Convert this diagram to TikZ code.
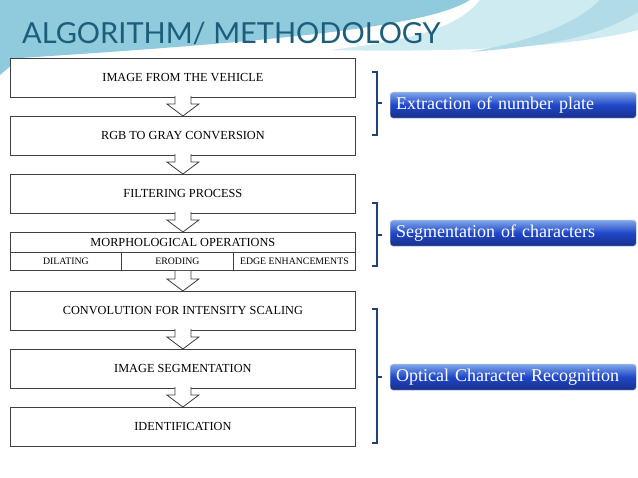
\documentclass[tikz,border=0pt]{standalone}
\usepackage{fontspec}
\usetikzlibrary{calc}
\setmainfont{Liberation Serif}
\newfontfamily\titlefont{Lato}
\definecolor{titlec}{HTML}{1B5E7C}
\definecolor{sw1}{HTML}{8FCBDD}
\definecolor{sw2}{HTML}{CDEBF1}
\definecolor{labtop}{HTML}{7FA6E8}
\definecolor{labmid}{HTML}{1F46C8}
\definecolor{labbot}{HTML}{1A2F8A}
\definecolor{brkc}{HTML}{1F3F7F}
\begin{document}
\begin{tikzpicture}[x=1pt,y=-1pt,
  box/.style={draw=black!75,fill=white,line width=0.8pt,minimum width=345pt,anchor=north west,inner sep=0pt,font=\fontsize{12.3}{14}\selectfont},
  sub/.style={box,minimum height=18pt,font=\fontsize{9.8}{11}\selectfont},
  lab/.style={rounded corners=3pt,draw=labtop!60,top color=labtop,bottom color=labbot,middle color=labmid,minimum width=246pt,minimum height=26pt,anchor=north west,text=white,font=\fontsize{18}{20}\selectfont,inner xsep=6pt,text width=234pt,align=left},
  brk/.style={draw=brkc,line width=1.8pt},
  arr/.style={draw=black!75,fill=white,line width=0.8pt}]
\useasboundingbox (0,0) rectangle (638,478);
\fill[white] (0,0) rectangle (638,478);
% background swoosh
\fill[sw1] (0,0) -- (470,0) .. controls (430,25) and (300,40) .. (20,58) -- (0,75) -- cycle;
\fill[sw2] (480,0) -- (638,0) -- (638,30) .. controls (560,50) and (430,52) .. (330,50) .. controls (420,40) and (460,25) .. (480,0) -- cycle;
\fill[sw1!70] (600,0) -- (638,0) -- (638,12) .. controls (600,35) and (560,45) .. (470,52) .. controls (540,40) and (580,20) .. (600,0) -- cycle;
\node[anchor=west,text=titlec,font=\titlefont\fontsize{29}{32}\selectfont,inner sep=0pt] (title) at (22,33) {ALGORITHM/ METHODOLOGY};
% boxes
\node[box,minimum height=39pt] (b1) at (10,58) {IMAGE FROM THE VEHICLE};
\node[box,minimum height=39pt] (b2) at (10,116) {RGB TO GRAY CONVERSION};
\node[box,minimum height=39pt] (b3) at (10,174) {FILTERING PROCESS};
\node[box,minimum height=20pt] (b4) at (10,232) {MORPHOLOGICAL OPERATIONS};
\node[sub,minimum width=111pt] (d1) at (10,252) {DILATING};
\node[sub,minimum width=112pt] (d2) at (121,252) {ERODING};
\node[sub,minimum width=122pt] (d3) at (233,252) {EDGE ENHANCEMENTS};
\node[box,minimum height=39pt] (b5) at (10,291) {CONVOLUTION FOR INTENSITY SCALING};
\node[box,minimum height=39pt] (b6) at (10,349) {IMAGE SEGMENTATION};
\node[box,minimum height=39pt] (b7) at (10,407) {IDENTIFICATION};
% arrows
\foreach \a/\b in {b1/b2,b2/b3,b3/b4,b4/b5,b5/b6,b6/b7}{
  \path (\b.north) ++(0,-20) coordinate (s);
  \path (\b.north) coordinate (t);
  \draw[arr] ($(s)+(-8,0)$) -- ($(s)+(-8,8)$) -- ($(s)+(-16,8)$) -- (t) -- ($(s)+(16,8)$) -- ($(s)+(8,8)$) -- ($(s)+(8,0)$);
}
% brackets
\draw[brk] (372,72) -- (377,72) -- (377,135) -- (372,135) (377,103) -- (382,103);
\draw[brk] (372,203) -- (377,203) -- (377,266) -- (372,266) (377,235) -- (382,235);
\draw[brk] (372,309) -- (377,309) -- (377,443) -- (372,443) (377,377) -- (382,377);
% labels
\node[lab] (l1) at (390,92) {Extraction of number plate};
\node[lab] (l2) at (390,220) {Segmentation of characters};
\node[lab] (l3) at (390,364) {Optical Character Recognition};
\end{tikzpicture}
\end{document}
